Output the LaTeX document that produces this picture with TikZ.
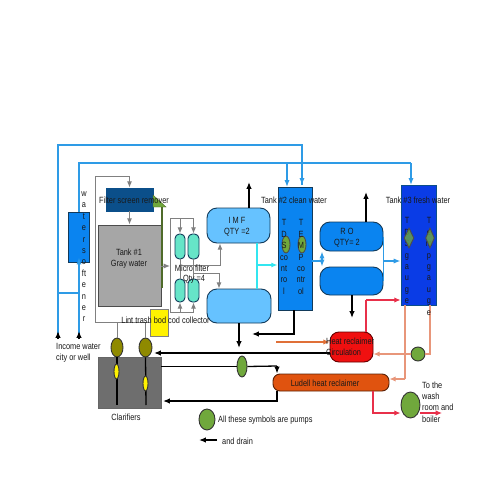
\documentclass[tikz,border=0pt]{standalone}
\usepackage{fontspec}
\setmainfont[FakeStretch=0.82]{Liberation Sans}
\usepackage{xcolor}
\usetikzlibrary{
  arrows.meta,
  shapes.geometric,
  calc
}
\definecolor{SoftBlue}{HTML}{0A84F0}
\definecolor{PipeBlue}{HTML}{2E9BE6}
\definecolor{FilterBlue}{HTML}{0B4F8A}
\definecolor{TankGray}{HTML}{A6A6A6}
\definecolor{ClarGray}{HTML}{6E6E6E}
\definecolor{ImfBlue}{HTML}{66C2FF}
\definecolor{FreshBlue}{HTML}{0A3CE6}
\definecolor{HeatRed}{HTML}{F01010}
\definecolor{LudellOrange}{HTML}{E0530F}
\definecolor{PumpGreen}{HTML}{70A83C}
\definecolor{PumpOlive}{HTML}{8F8A00}
\definecolor{MicroGreen}{HTML}{66E5C8}
\definecolor{DarkLine}{HTML}{123A5A}
\definecolor{Salmon}{HTML}{E8967A}
\definecolor{Crimson}{HTML}{E8304A}
\definecolor{SteamOrange}{HTML}{E07038}
\definecolor{FrameGreen}{HTML}{4F6B2A}
\definecolor{CyanPipe}{HTML}{33E6F0}
\tikzset{
  box/.style={
    draw,
    inner sep=0pt,
    line width=0.9pt
  },
  softener/.style={box, fill=SoftBlue, draw=DarkLine},
  filterbox/.style={box, fill=FilterBlue, draw=FilterBlue},
  tankbox/.style={box, fill=TankGray, draw=black!70},
  clarbox/.style={box, fill=ClarGray, draw=black!60},
  cleantank/.style={box, fill=SoftBlue, draw=DarkLine},
  freshtank/.style={box, fill=FreshBlue, draw=FilterBlue},
  imfbox/.style={box, fill=ImfBlue, draw=DarkLine, rounded corners=10pt},
  robox/.style={box, fill=SoftBlue, draw=DarkLine, rounded corners=10pt},
  heatbox/.style={box, fill=HeatRed, draw=black!60!red, rounded corners=9pt},
  ludellbox/.style={box, fill=LudellOrange, draw=black!60!LudellOrange, rounded corners=7pt},
  microbox/.style={box, fill=MicroGreen, draw=DarkLine, rounded corners=4.5pt},
  pump/.style={ellipse, draw=black!80, line width=0.9pt, fill=PumpGreen, inner sep=0pt},
  olivepump/.style={pump, fill=PumpOlive},
  floatpump/.style={pump, fill=yellow},
  lintbox/.style={box, fill=yellow, draw=black!50},
  label/.style={font=\fontsize{9}{11}\selectfont, align=center, inner sep=0pt, text=black!90},
  leftlabel/.style={label, align=left, anchor=west},
  stack/.style={font=\fontsize{9}{11.4}\selectfont, align=center, inner sep=0pt, anchor=north, text=black!90},
  bluepipe/.style={-{Latex[length=2.4mm,width=1.8mm]}, PipeBlue, line width=1.3pt},
  blueline/.style={PipeBlue, line width=1.3pt},
  cyanpipe/.style={-{Latex[length=2.2mm,width=1.8mm]}, CyanPipe, line width=1.4pt},
  graypipe/.style={-{Latex[length=2.2mm,width=1.8mm]}, black!50, line width=1pt},
  grayline/.style={black!50, line width=1pt},
  blackpipe/.style={-{Latex[length=2.4mm,width=1.9mm]}, black, line width=1.3pt},
  blackline/.style={black, line width=1.3pt},
  redpipe/.style={-{Latex[length=2.2mm,width=1.9mm]}, Crimson, line width=1.2pt},
  salmonpipe/.style={-{Latex[length=2.2mm,width=1.9mm]}, Salmon, line width=1.2pt},
  salmonline/.style={Salmon, line width=1.2pt}
}

\begin{document}
\begin{tikzpicture}[x=1pt,y=-1pt]

  \useasboundingbox (0,0) rectangle (495,495);
  \fill[white] (0,0) rectangle (495,495);

  % equipment
  \node[softener, minimum width=21pt, minimum height=50pt] (soft) at (78.5,237) {};
  \node[filterbox, minimum width=47pt, minimum height=23pt] (filter) at (129.5,199.5) {};
  \node[tankbox, minimum width=63pt, minimum height=81pt] (tankone) at (129.5,265.5) {};
  \node[clarbox, minimum width=63pt, minimum height=51pt] (clar) at (129.5,382.5) {};
  \node[lintbox, minimum width=18pt, minimum height=27pt] (lint) at (159,322.5) {};
  \node[imfbox, minimum width=63pt, minimum height=35pt] (imfa) at (238.5,225.5) {};
  \node[imfbox, minimum width=64pt, minimum height=34pt] (imfb) at (239,306) {};
  \node[cleantank, minimum width=34pt, minimum height=123pt] (tanktwo) at (295,248.5) {};
  \node[freshtank, minimum width=35pt, minimum height=120pt] (tankthree) at (418.5,245) {};
  \node[robox, minimum width=63pt, minimum height=29pt] (roa) at (351.5,236.5) {};
  \node[robox, minimum width=63pt, minimum height=28pt] (rob) at (351.5,281) {};
  \node[heatbox, minimum width=43pt, minimum height=30pt] (heat) at (351.5,347) {};
  \node[ludellbox, minimum width=116pt, minimum height=17pt] (ludell) at (331,382.5) {};

  \node[microbox, minimum width=10pt, minimum height=25pt] (mfa) at (180,246.5) {};
  \node[microbox, minimum width=11pt, minimum height=25pt] (mfb) at (193.5,246.5) {};
  \node[microbox, minimum width=10pt, minimum height=23pt] (mfc) at (180,290.5) {};
  \node[microbox, minimum width=11pt, minimum height=23pt] (mfd) at (193.5,290.5) {};

  % filter wedge and frame
  \fill[PumpGreen, draw=FrameGreen] (153,195) -- (166,207) -- (153,207) -- cycle;
  \draw[FrameGreen, line width=2.2pt] (162,207) -- (162,288);

  % pumps
  \node[olivepump, minimum width=12pt, minimum height=19pt] (pumpa) at (117,347.5) {};
  \node[olivepump, minimum width=13pt, minimum height=19pt] (pumpb) at (145.5,347.5) {};
  \node[pump, minimum width=10pt, minimum height=21pt] (pumpc) at (242,366.5) {};
  \node[pump, minimum width=14pt, minimum height=14pt] (pumpd) at (418,354) {};
  \node[pump, minimum width=19pt, minimum height=26pt] (pumpe) at (410.5,405) {};
  \node[pump, minimum width=16pt, minimum height=21pt] (pumpkey) at (207,419.5) {};

  \coordinate (keyend) at (199,440);
  \coordinate (keystart) at (217,440);

  % clarifier rods
  \coordinate (roda) at (117,405);
  \coordinate (rodb) at (146,405);
  \draw[blackline] (pumpa.south) -- (roda);
  \draw[blackline] (pumpb.south) -- (rodb);
  \node[floatpump, minimum width=5pt, minimum height=15pt] (floata) at (116.5,371.5) {};
  \node[floatpump, minimum width=5pt, minimum height=15pt] (floatb) at (145.5,383.5) {};

  % city water
  \coordinate (inleta) at (58,339);
  \coordinate (inletb) at (79,339);
  \coordinate (tipa) at (58,331);
  \coordinate (tipb) at (79,331);
  \coordinate (cross) at (79,293);
  \coordinate (twoa) at (287,187);
  \coordinate (twob) at (302,185);
  \coordinate (threein) at (411,185);
  \draw[blueline] (inleta) |- (twob |- 0,145) -- (twob);
  \draw[bluepipe] (twob |- 0,145) -- (twob);
  \draw[blueline] (inleta |- cross) -- (cross);
  \draw[bluepipe, shorten >=-5pt] (inletb) -- (soft.south -| inletb);
  \draw[blueline] (soft.north -| inletb) |- (threein |- 0,163);
  \draw[bluepipe] (threein |- 0,163) -- (threein);
  \draw[bluepipe] (twoa |- 0,163) -- (twoa);
  \draw[blackpipe] (inleta) -- (tipa);
  \draw[blackpipe] (inletb) -- (tipb);

  % gray water loop
  \coordinate (loopa) at (95,322);
  \coordinate (loopb) at (150,322);
  \coordinate (looptop) at (95,176);
  \draw[grayline] (loopb) -- (loopa) |- (filter.north |- looptop);
  \draw[graypipe] (filter.north |- looptop) -- (filter.north);
  \draw[graypipe] (filter.south) -- (tankone.north -| filter.south);
  \draw[grayline] (pumpa.north |- loopa) -- (pumpa.north);
  \draw[grayline] (pumpb.north |- loopa) -- (pumpb.north);

  % micro filter piping
  \coordinate (mleft) at (170,266);
  \coordinate (mtop) at (170,218);
  \coordinate (mbot) at (170,312);
  \coordinate (collecta) at (220,265);
  \coordinate (collectb) at (219,273);
  \draw[graypipe] (tankone.east |- mleft) -- (mleft);
  \draw[grayline] (mtop) -- (mbot);
  \draw[grayline] (mtop) -- (mfb.north |- mtop);
  \draw[grayline] (mbot) -- (mfd.south |- mbot);
  \draw[graypipe] (mfa.north |- mtop) -- (mfa.north);
  \draw[graypipe] (mfb.north |- mtop) -- (mfb.north);
  \draw[graypipe] (mfc.south |- mbot) -- (mfc.south);
  \draw[graypipe] (mfd.south |- mbot) -- (mfd.south);
  \draw[grayline] (mfa.south) -- (mfc.north);
  \draw[grayline] (mfb.south) -- (mfd.north);
  \draw[graypipe] (mfa.south |- collecta) -| (imfa.south -| collecta);
  \draw[graypipe] (mfb.south |- collectb) -| (imfb.north -| collectb);

  % IMF and tank two
  \coordinate (imfup) at (249,182);
  \coordinate (imfdown) at (239,348);
  \coordinate (cyanx) at (257,265);
  \coordinate (twoout) at (252,334);
  \coordinate (twodrop) at (294,334);
  \draw[blackpipe] (imfup |- imfa.north) -- (imfup);
  \draw[blackpipe] (imfb.south) -- (imfdown);
  \draw[cyanpipe, -] (cyanx |- imfa.south) -- (cyanx |- imfb.north);
  \draw[cyanpipe] (cyanx) -- (tanktwo.west |- cyanx);
  \draw[blackpipe] (tanktwo.south -| twodrop) -- (twodrop) -- (twoout);

  % RO
  \coordinate (rojoin) at (322,261);
  \coordinate (roup) at (366,192);
  \coordinate (rodown) at (352,318);
  \coordinate (rorail) at (383,261);
  \draw[blueline] (tanktwo.east |- rojoin) -- (rojoin);
  \draw[bluepipe] (rojoin) -- (rojoin |- roa.south);
  \draw[bluepipe] (rojoin) -- (rojoin |- rob.north);
  \draw[blueline] (roa.east) -- (rob.east);
  \draw[bluepipe] (rorail) -- (tankthree.west |- rorail);
  \draw[blackpipe] (roup |- roa.north) -- (roup);
  \draw[blackpipe] (rob.south -| rodown) -- (rodown);

  % heat reclaim
  \coordinate (redcorner) at (366,300);
  \coordinate (saltop) at (405,305);
  \coordinate (salcorner) at (405,379);
  \coordinate (gaugeline) at (430,305);
  \coordinate (steam) at (276,342);
  \coordinate (blackjoin) at (277,366);
  \coordinate (ludellcorner) at (277,401);
  \coordinate (redlow) at (373,413);
  \coordinate (washend) at (442,413);
  \draw[Crimson, line width=1.2pt] (heat.north -| redcorner) -- (redcorner);
  \draw[redpipe] (redcorner) -- (tankthree.west |- redcorner);
  \draw[salmonline] (saltop) -- (salcorner);
  \draw[salmonpipe] (salcorner) -- (ludell.east |- salcorner);
  \draw[salmonline] (gaugeline) |- (pumpd.east);
  \draw[salmonpipe] (pumpd.west) -- (heat.east |- pumpd.west);
  \draw[-{Latex[length=2.2mm,width=1.9mm]}, SteamOrange, line width=1.2pt] (steam) -- (heat.west |- steam);
  \draw[blackpipe] (heat.west |- 0,353) -- (154,353);
  \draw[blackline] (clar.east |- pumpc) -- (pumpc.west);
  \draw[blackline] (pumpc.east) -- (blackjoin);
  \draw[blackpipe] (blackjoin) -- (ludell.north -| blackjoin);
  \draw[blackpipe] (ludell.south -| ludellcorner) -- (ludellcorner) -- (163,401);
  \draw[redpipe] (ludell.south -| redlow) -- (redlow) -- (pumpe.west |- redlow);
  \draw[redpipe] (pumpe.east |- redlow) -- (washend);
  \draw[blackpipe] (keystart) -- (keyend);

  % gauges
  \node[pump, draw=black!70, minimum width=8pt, minimum height=17pt] (tds) at (286,244.5) {};
  \node[pump, draw=black!70, minimum width=8pt, minimum height=17pt] (temp) at (302,244.5) {};

  % labels
  \node[stack] (softtxt) at (84,191.5) {w\\a\\t\\e\\r\\s\\o\\ft\\e\\n\\e\\r};
  \node[stack] (tdstxt) at (284,219.5) {T\\D\\S\\co\\nt\\ro\\l};
  \node[stack] (temptxt) at (301,219.5) {T\\E\\M\\P\\co\\ntr\\ol};
  \node[stack] (gaugeatxt) at (407,217.5) {T\\D\\S\\g\\a\\u\\g\\e};
  \node[stack] (gaugebtxt) at (429,217.5) {T\\e\\m\\p\\g\\a\\u\\g\\e};
  \node[label] (filtertxt) at (134,200) {Filter screen remover};
  \node[label] (tankonetxt) at (129,259) {Tank \#1\\Gray water};
  \node[label] (microtxt) at (192,268) {Micro filter};
  \node[label] (qtytxt) at (194,279) {Qty =4};
  \node[label] (linttxt) at (165.5,320) {Lint trash bod cod collector};
  \node[leftlabel] (incometxt) at (56,352.5) {Income water\\city or well};
  \node[label] (clartxt) at (126,417) {Clarifiers};
  \node[label] (twotxt) at (294,200) {Tank \#2 clean water};
  \node[label] (threetxt) at (418,200) {Tank \#3 fresh water};
  \node[label] (imftxt) at (237,226.5) {I M F\\QTY =2};
  \node[label] (rotxt) at (347,237.5) {R O\\QTY= 2};
  \node[leftlabel] (heattxt) at (326,347) {Heat reclaimer\\Circulation};
  \node[label] (ludelltxt) at (325,383) {Ludell heat reclaimer};
  \node[leftlabel, font=\fontsize{9}{11.4}\selectfont] (washtxt) at (422,402) {To the\\wash\\room and\\boiler};
  \node[leftlabel] (keytxt) at (218,420) {All these symbols are pumps};
  \node[leftlabel] (draintxt) at (222,441) {and drain};

  % tank three gauges sit over their letters
  \node[pump, diamond, aspect=0.5, draw=black!70, fill opacity=0.8, minimum width=10pt, minimum height=20pt] (gaugea) at (409,238) {};
  \node[pump, diamond, aspect=0.5, draw=black!70, fill opacity=0.8, minimum width=9pt, minimum height=20pt] (gaugeb) at (430,238) {};

\end{tikzpicture}
\end{document}
